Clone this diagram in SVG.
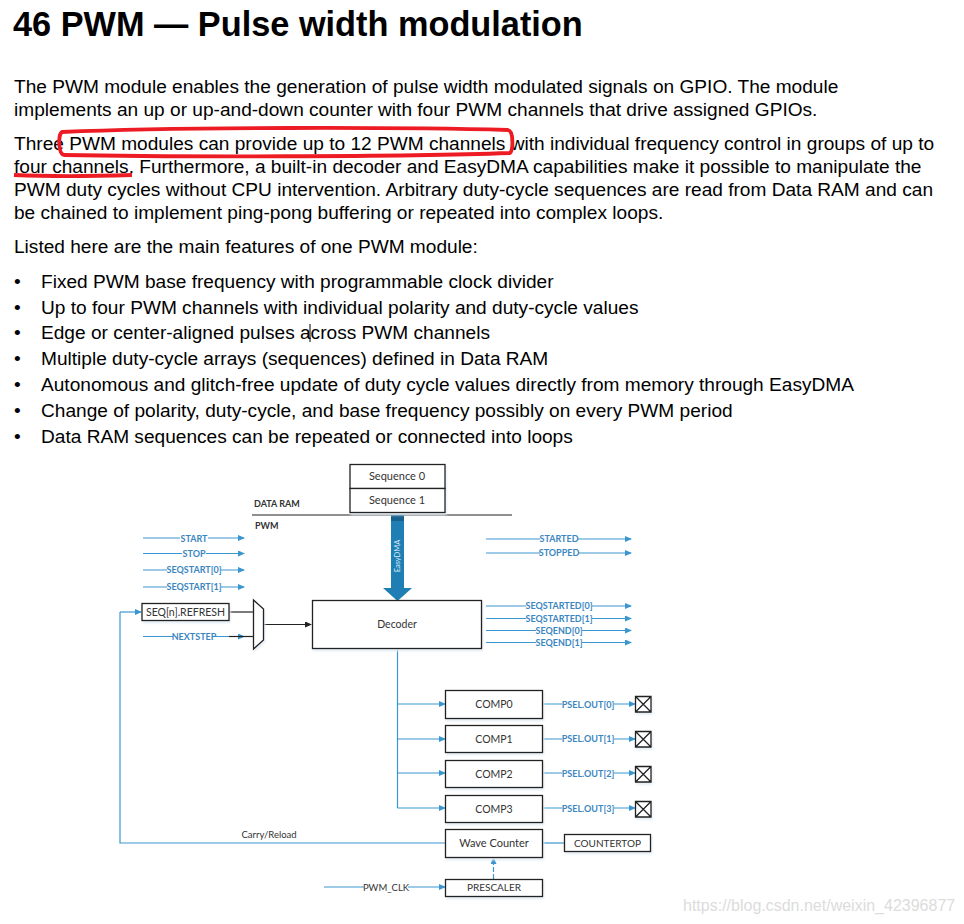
<svg xmlns="http://www.w3.org/2000/svg" width="964" height="924" viewBox="0 0 964 924">
<style>
text{font-family:"Liberation Sans",Arial,sans-serif;fill:#000}
.t{font-size:34.300px;font-weight:bold}
.b{font-size:19.100px}
.d{font-family:Lato,"Liberation Sans",sans-serif;font-size:10.500px;fill:#333}
.c{text-anchor:middle}
.s{font-family:Lato,"Liberation Sans",sans-serif;font-size:9px;font-weight:bold;fill:#3a86bf;text-anchor:middle}
.bx{fill:#fff;stroke:#222;stroke-width:1.3;filter:drop-shadow(1px 2px 1px #e3ecf5)}
.ln{fill:none;stroke:#3a96d0;stroke-width:1.2}
.k{fill:none;stroke:#222;stroke-width:1.2}
.red{fill:none;stroke:#ed1c24;stroke-width:3.800}
.lb{fill:#fff;stroke:none}
</style>
<defs>
<marker id="a" markerWidth="7" markerHeight="6" refX="6" refY="3" orient="auto" markerUnits="userSpaceOnUse"><path d="M0 0L7 3L0 6z" fill="#3a96d0"/></marker>
<marker id="k" markerWidth="7" markerHeight="6" refX="6" refY="3" orient="auto" markerUnits="userSpaceOnUse"><path d="M0 0L7 3L0 6z" fill="#222"/></marker>
</defs>
<rect width="964" height="924" fill="#fff"/>
<g id="page-text">
<text class="t" x="13" y="36">46 PWM — Pulse width modulation</text>
<text class="b" x="14" y="93">The PWM module enables the generation of pulse width modulated signals on GPIO. The module</text>
<text class="b" x="14" y="116">implements an up or up-and-down counter with four PWM channels that drive assigned GPIOs.</text>
<text class="b" x="14" y="150">Three PWM modules can provide up to 12 PWM channels with individual frequency control in groups of up to</text>
<text class="b" x="14" y="173">four channels. Furthermore, a built-in decoder and EasyDMA capabilities make it possible to manipulate the</text>
<text class="b" x="14" y="196">PWM duty cycles without CPU intervention. Arbitrary duty-cycle sequences are read from Data RAM and can</text>
<text class="b" x="14" y="219">be chained to implement ping-pong buffering or repeated into complex loops.</text>
<text class="b" x="14" y="253">Listed here are the main features of one PWM module:</text>
<text class="b" x="14" y="288">•</text><text class="b" x="41" y="288">Fixed PWM base frequency with programmable clock divider</text>
<text class="b" x="14" y="314">•</text><text class="b" x="41" y="314">Up to four PWM channels with individual polarity and duty-cycle values</text>
<text class="b" x="14" y="339">•</text><text class="b" x="41" y="339">Edge or center-aligned pulses across PWM channels</text>
<text class="b" x="14" y="365">•</text><text class="b" x="41" y="365">Multiple duty-cycle arrays (sequences) defined in Data RAM</text>
<text class="b" x="14" y="391">•</text><text class="b" x="41" y="391">Autonomous and glitch-free update of duty cycle values directly from memory through EasyDMA</text>
<text class="b" x="14" y="417">•</text><text class="b" x="41" y="417">Change of polarity, duty-cycle, and base frequency possibly on every PWM period</text>
<text class="b" x="14" y="443">•</text><text class="b" x="41" y="443">Data RAM sequences can be repeated or connected into loops</text>
</g>
<g id="annotations">
<path class="red" d="M62 132C180 127 400 127 508 130C514 131 513 150 510 153C400 157 170 157 64 155C58 154 58 134 62 132Z"/>
<path class="red" d="M14 175C60 177 100 176 132 175"/>
<path d="M310 324V342" stroke="#000" stroke-width="1"/>
</g>
<g id="connectors">
<path d="M252 515H512" class="k"/>
<path class="ln" d="M143 538H244" marker-end="url(#a)"/>
<path class="ln" d="M143 553.500H244" marker-end="url(#a)"/>
<path class="ln" d="M143 570H244" marker-end="url(#a)"/>
<path class="ln" d="M143 587H244" marker-end="url(#a)"/>
<path class="ln" d="M143 636.500H244" marker-end="url(#a)"/>
<path class="ln" d="M486 539H631" marker-end="url(#a)"/>
<path class="ln" d="M486 553H631" marker-end="url(#a)"/>
<path class="ln" d="M486 606H631" marker-end="url(#a)"/>
<path class="ln" d="M486 618.500H631" marker-end="url(#a)"/>
<path class="ln" d="M486 630.500H631" marker-end="url(#a)"/>
<path class="ln" d="M486 642.500H631" marker-end="url(#a)"/>
<path class="ln" d="M120 612H141" marker-end="url(#a)"/>
<path class="ln" d="M445 843H120V612"/>
<path class="ln" d="M397.500 649V808"/>
<path class="ln" d="M397.500 704H445" marker-end="url(#a)"/>
<path class="ln" d="M397.500 739H445" marker-end="url(#a)"/>
<path class="ln" d="M397.500 773H445" marker-end="url(#a)"/>
<path class="ln" d="M397.500 808H445" marker-end="url(#a)"/>
<path class="ln" d="M543 704H635" marker-end="url(#a)"/>
<path class="ln" d="M543 739H635" marker-end="url(#a)"/>
<path class="ln" d="M543 773H635" marker-end="url(#a)"/>
<path class="ln" d="M543 808H635" marker-end="url(#a)"/>
<path class="ln" d="M543 843H564"/>
<path class="ln" d="M493.500 879V858" stroke-dasharray="5 2" marker-end="url(#a)"/>
<path class="ln" d="M324 887H445" marker-end="url(#a)"/>
<path class="k" d="M229 612H253"/>
<path class="k" d="M229 636.500H253"/>
<path class="k" d="M263 624.500H311" marker-end="url(#k)"/>
<path d="M391 515H404V588H412L397.500 601L383 588H391Z" fill="#1f7fb5"/>
<rect x="391" y="515" width="13" height="6" fill="#17618c"/>
</g>
<g id="labels">
<g class="lb"><rect x="180" y="533" width="28" height="10"/><rect x="182" y="548" width="24" height="10"/><rect x="167" y="565" width="54" height="10"/><rect x="167" y="582" width="54" height="10"/><rect x="173" y="631" width="42" height="10"/><rect x="540" y="534" width="38" height="10"/><rect x="540" y="548" width="38" height="10"/><rect x="526" y="601" width="66" height="10"/><rect x="526" y="613" width="66" height="10"/><rect x="536" y="625" width="46" height="10"/><rect x="536" y="637" width="46" height="10"/><rect x="562" y="699" width="52" height="10"/><rect x="562" y="734" width="52" height="10"/><rect x="562" y="768" width="52" height="10"/><rect x="562" y="803" width="52" height="10"/><rect x="364" y="882" width="44" height="10"/></g>
<text class="s" x="194" y="541.500">START</text>
<text class="s" x="194" y="557">STOP</text>
<text class="s" x="194" y="573">SEQSTART[0]</text>
<text class="s" x="194" y="590">SEQSTART[1]</text>
<text class="s" x="194" y="640">NEXTSTEP</text>
<text class="s" x="559" y="542">STARTED</text>
<text class="s" x="559" y="556">STOPPED</text>
<text class="s" x="559" y="609">SEQSTARTED[0]</text>
<text class="s" x="559" y="622">SEQSTARTED[1]</text>
<text class="s" x="559" y="634">SEQEND[0]</text>
<text class="s" x="559" y="646">SEQEND[1]</text>
<text class="s" x="588" y="708">PSEL.OUT[0]</text>
<text class="s" x="588" y="742">PSEL.OUT[1]</text>
<text class="s" x="588" y="777">PSEL.OUT[2]</text>
<text class="s" x="588" y="812">PSEL.OUT[3]</text>
<text class="d c" x="386" y="891" style="font-size:9.500px">PWM_CLK</text>
<text class="d c" x="269" y="838" style="font-size:9.500px">Carry/Reload</text>
<text class="d" x="254" y="507" style="font-size:9px;font-weight:bold">DATA RAM</text>
<text class="d" x="255" y="529" style="font-size:9px;font-weight:bold">PWM</text>
<text class="d c" transform="translate(400 556) rotate(-90)" style="font-size:7.500px;fill:#dbeaf5">EasyDMA</text>
</g>
<g id="seq0"><rect class="bx" x="350" y="464.500" width="95" height="24"/><text class="d c" x="397" y="480" style="font-size:11px">Sequence 0</text></g>
<g id="seq1"><rect class="bx" x="350" y="488.500" width="95" height="24"/><text class="d c" x="397" y="504" style="font-size:11px">Sequence 1</text></g>
<g id="refresh"><rect class="bx" x="142" y="603.500" width="87" height="17"/><text class="d c" x="185.500" y="616">SEQ[n].REFRESH</text></g>
<g id="mux"><path class="bx" d="M253.500 600L263.500 609V640L253.500 649Z"/></g>
<g id="decoder"><rect class="bx" x="312.500" y="600.500" width="169" height="48"/><text class="d c" x="397" y="628">Decoder</text></g>
<g id="comp0"><rect class="bx" x="445.500" y="690.500" width="97" height="28"/><text class="d c" x="494" y="708">COMP0</text></g>
<g id="comp1"><rect class="bx" x="445.500" y="725.500" width="97" height="27"/><text class="d c" x="494" y="743">COMP1</text></g>
<g id="comp2"><rect class="bx" x="445.500" y="760.500" width="97" height="27"/><text class="d c" x="494" y="778">COMP2</text></g>
<g id="comp3"><rect class="bx" x="445.500" y="795.500" width="97" height="27"/><text class="d c" x="494" y="813">COMP3</text></g>
<g id="wave"><rect class="bx" x="445.500" y="829.500" width="97" height="28"/><text class="d c" x="494" y="847" style="font-size:11px">Wave Counter</text></g>
<g id="countertop"><rect class="bx" x="564.500" y="834.500" width="86" height="17"/><text class="d c" x="607.500" y="847" style="font-size:10px">COUNTERTOP</text></g>
<g id="prescaler"><rect class="bx" x="445.500" y="879.500" width="97" height="17"/><text class="d c" x="494" y="891" style="font-size:10px">PRESCALER</text></g>
<g id="pad0"><path class="bx" d="M635.500 696.500H651V712H635.500ZM635.500 696.500L651 712M651 696.500L635.500 712"/></g>
<g id="pad1"><path class="bx" d="M635.500 731.500H651V747H635.500ZM635.500 731.500L651 747M651 731.500L635.500 747"/></g>
<g id="pad2"><path class="bx" d="M635.500 766.500H651V782H635.500ZM635.500 766.500L651 782M651 766.500L635.500 782"/></g>
<g id="pad3"><path class="bx" d="M635.500 801.500H651V817H635.500ZM635.500 801.500L651 817M651 801.500L635.500 817"/></g>
<text x="683" y="911" style="font-size:16px;fill:#dcdcdc">https://blog.csdn.net/weixin_42396877</text>
</svg>
